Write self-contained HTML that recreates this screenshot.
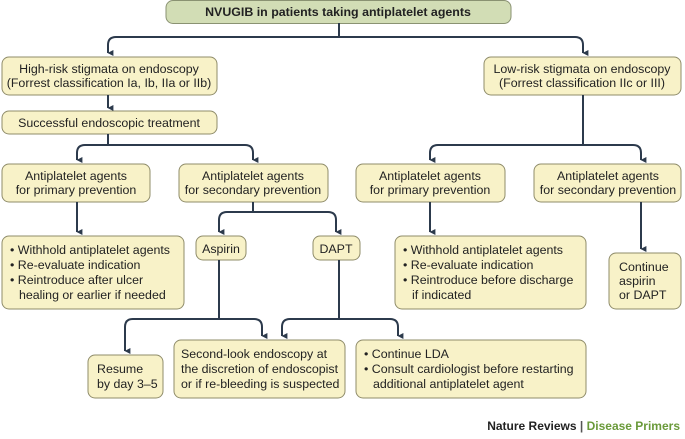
<!DOCTYPE html>
<html><head><meta charset="utf-8"><style>
html,body{margin:0;padding:0;background:#fff}
svg{display:block}
text{font-family:"Liberation Sans",sans-serif;font-size:12.4px;fill:#222}
.b{fill:#f8f2c8;stroke:#8f8c6a;stroke-width:1}
.l{fill:none;stroke:#2c3a4c;stroke-width:2}
.a{fill:#2c3a4c}
</style></head><body>
<svg width="685" height="439" viewBox="0 0 685 439">
<defs><marker id="m" viewBox="0 0 10 10" refX="5" refY="9" markerWidth="6" markerHeight="6" orient="auto-start-reverse" markerUnits="userSpaceOnUse"><path d="M0,0 L10,0 L5,10 z" class="a"/></marker></defs>
<rect x="166" y="0.5" width="345" height="23" rx="7" fill="#d2ddb5" stroke="#8a9272"/>
<text x="338" y="16" text-anchor="middle" style="font-weight:bold">NVUGIB in patients taking antiplatelet agents</text>

<rect class="b" x="2" y="57" width="215" height="38" rx="7"/>
<text x="109" y="73" text-anchor="middle">High-risk stigmata on endoscopy</text>
<text x="109" y="87" text-anchor="middle">(Forrest classification Ia, Ib, IIa or IIb)</text>

<rect class="b" x="2" y="111" width="215" height="23" rx="7"/>
<text x="109" y="127" text-anchor="middle">Successful endoscopic treatment</text>

<rect class="b" x="484" y="57" width="197" height="38" rx="7"/>
<text x="582" y="73" text-anchor="middle">Low-risk stigmata on endoscopy</text>
<text x="582" y="87" text-anchor="middle">(Forrest classification IIc or III)</text>

<rect class="b" x="2" y="164" width="148" height="38" rx="7"/>
<text x="76" y="180" text-anchor="middle">Antiplatelet agents</text>
<text x="76" y="194" text-anchor="middle">for primary prevention</text>

<rect class="b" x="179" y="164" width="149" height="38" rx="7"/>
<text x="253" y="180" text-anchor="middle">Antiplatelet agents</text>
<text x="253" y="194" text-anchor="middle">for secondary prevention</text>

<rect class="b" x="356" y="164" width="149" height="38" rx="7"/>
<text x="430" y="180" text-anchor="middle">Antiplatelet agents</text>
<text x="430" y="194" text-anchor="middle">for primary prevention</text>

<rect class="b" x="534" y="164" width="147" height="38" rx="7"/>
<text x="608" y="180" text-anchor="middle">Antiplatelet agents</text>
<text x="608" y="194" text-anchor="middle">for secondary prevention</text>

<rect class="b" x="2" y="236" width="182" height="73" rx="7"/>
<text x="10" y="254">• Withhold antiplatelet agents</text>
<text x="10" y="269">• Re-evaluate indication</text>
<text x="10" y="284">• Reintroduce after ulcer</text>
<text x="19" y="299">healing or earlier if needed</text>

<rect class="b" x="196" y="236" width="50" height="24" rx="7"/>
<text x="221" y="253" text-anchor="middle">Aspirin</text>
<rect class="b" x="313" y="236" width="47" height="24" rx="7"/>
<text x="336" y="253" text-anchor="middle">DAPT</text>

<rect class="b" x="395" y="236" width="191" height="73" rx="7"/>
<text x="403" y="254">• Withhold antiplatelet agents</text>
<text x="403" y="269">• Re-evaluate indication</text>
<text x="403" y="284">• Reintroduce before discharge</text>
<text x="412" y="299">if indicated</text>

<rect class="b" x="609" y="253" width="72" height="56" rx="7"/>
<text x="619" y="271">Continue</text>
<text x="619" y="285">aspirin</text>
<text x="619" y="299">or DAPT</text>

<rect class="b" x="88" y="355" width="75" height="43" rx="7"/>
<text x="97" y="373">Resume</text>
<text x="97" y="388">by day 3–5</text>

<rect class="b" x="174" y="340" width="171" height="58" rx="7"/>
<text x="181" y="358">Second-look endoscopy at</text>
<text x="181" y="373">the discretion of endoscopist</text>
<text x="181" y="388">or if re-bleeding is suspected</text>

<rect class="b" x="356" y="340" width="230" height="58" rx="7"/>
<text x="364" y="358">• Continue LDA</text>
<text x="364" y="373">• Consult cardiologist before restarting</text>
<text x="373" y="388">additional antiplatelet agent</text>

<path class="l" d="M339,23 V37"/>
<path class="l" d="M108,53 V45 Q108,37 116,37 H575 Q583,37 583,45 V53" marker-start="url(#m)" marker-end="url(#m)"/>
<path class="l" d="M108,95 V108" marker-end="url(#m)"/>
<path class="l" d="M108,134 V145"/>
<path class="l" d="M77,160 V153 Q77,145 85,145 H245 Q253,145 253,153 V160" marker-start="url(#m)" marker-end="url(#m)"/>
<path class="l" d="M583,95 V145"/>
<path class="l" d="M430,160 V153 Q430,145 438,145 H633 Q641,145 641,153 V160" marker-start="url(#m)" marker-end="url(#m)"/>
<path class="l" d="M77,202 V232" marker-end="url(#m)"/>
<path class="l" d="M253,202 V212"/>
<path class="l" d="M219,232 V220 Q219,212 227,212 H328 Q336,212 336,220 V232" marker-start="url(#m)" marker-end="url(#m)"/>
<path class="l" d="M430,202 V232" marker-end="url(#m)"/>
<path class="l" d="M641,202 V249" marker-end="url(#m)"/>
<path class="l" d="M219,260 V319"/>
<path class="l" d="M125,351 V327 Q125,319 133,319 H254 Q262,319 262,327 V336" marker-start="url(#m)" marker-end="url(#m)"/>
<path class="l" d="M339,260 V319"/>
<path class="l" d="M282,336 V327 Q282,319 290,319 H390 Q398,319 398,327 V336" marker-start="url(#m)" marker-end="url(#m)"/>

<text x="680" y="430" text-anchor="end" style="font-weight:bold;font-size:12px"><tspan fill="#222">Nature Reviews</tspan><tspan fill="#555"> | </tspan><tspan fill="#6a9a3a">Disease Primers</tspan></text>
</svg>
</body></html>
